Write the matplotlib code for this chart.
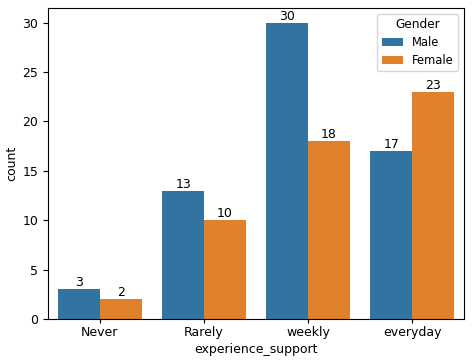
import matplotlib
matplotlib.use("Agg")
import matplotlib.pyplot as plt
import numpy as np

categories = ["Never", "Rarely", "weekly", "everyday"]
male_counts = [3, 13, 30, 17]
female_counts = [2, 10, 18, 23]

plt.rcParams["font.size"] = 9
plt.rcParams["xtick.major.size"] = 3
plt.rcParams["xtick.major.pad"] = 2
plt.rcParams["axes.labelpad"] = 3

fig = plt.figure(figsize=(4.74, 3.64), dpi=100)
ax = fig.add_axes([0.101, 0.124, 0.878, 0.854])

x = np.arange(len(categories))
width = 0.4
b1 = ax.bar(x - width / 2, male_counts, width, color="#3274a1", label="Male")
b2 = ax.bar(x + width / 2, female_counts, width, color="#e1812c", label="Female")
ax.bar_label(b1)
ax.bar_label(b2)

ax.set_xticks(x)
ax.set_xticklabels(categories)
ax.set_xlim(-0.5, 3.5)
ax.set_ylim(0, 31.5)
ax.set_xlabel("experience_support")
ax.set_ylabel("count")
ax.legend(title="Gender", loc="upper right", fontsize=8.3, title_fontsize=8.7,
          handlelength=1.8, labelspacing=0.4, borderaxespad=0.5)

fig.savefig("out.png", dpi=100)
